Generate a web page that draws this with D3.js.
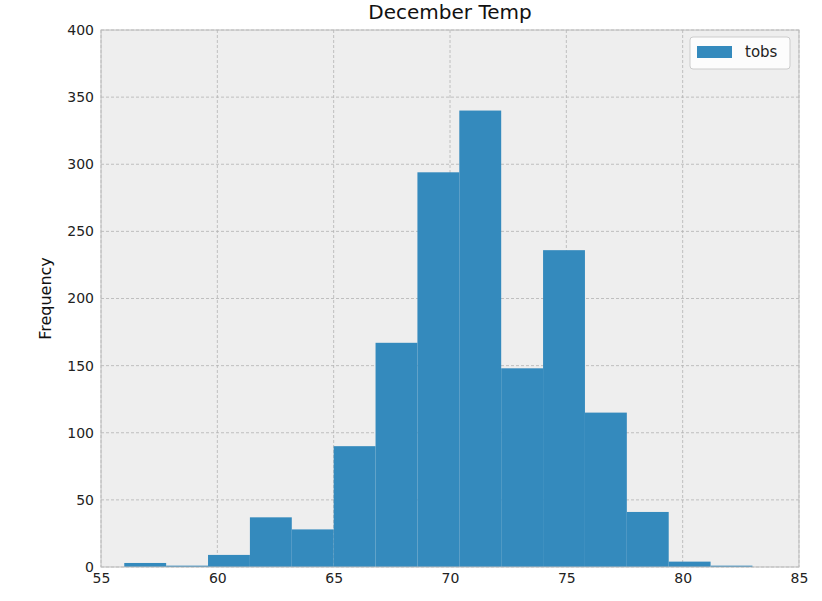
<!DOCTYPE html>
<html><head><meta charset="utf-8">
<script src="https://cdn.jsdelivr.net/npm/d3@7"></script>
<style>body{margin:0;background:#fff;font-family:"DejaVu Sans",sans-serif;}</style>
</head><body><svg id="c" width="822" height="601"></svg>
<script>
const binEdges = [56,57.8,59.6,61.4,63.2,65,66.8,68.6,70.4,72.2,74,75.8,77.6,79.4,81.2,83];
const counts = [3,1,9,37,28,90,167,294,340,148,236,115,41,4,1];
const xTicks = [55,60,65,70,75,80,85];
const yTicks = [0,50,100,150,200,250,300,350,400];

const svg = d3.select("#c");
const m = {l:101, r:799, t:30, b:567};
const x = d3.scaleLinear().domain([55,85]).range([m.l,m.r]);
const y = d3.scaleLinear().domain([0,400]).range([m.b,m.t]);

svg.append("rect").attr("x",m.l).attr("y",m.t).attr("width",m.r-m.l).attr("height",m.b-m.t).attr("fill","#eeeeee");
const g = svg.append("g");
xTicks.forEach(t=>g.append("line").attr("x1",x(t)).attr("x2",x(t)).attr("y1",m.t).attr("y2",m.b).attr("stroke","#b2b2b2").attr("stroke-dasharray","3,2").attr("stroke-width",0.8));
yTicks.forEach(t=>g.append("line").attr("y1",y(t)).attr("y2",y(t)).attr("x1",m.l).attr("x2",m.r).attr("stroke","#b2b2b2").attr("stroke-dasharray","3,2").attr("stroke-width",0.8));

svg.selectAll(".bar").data(counts).enter().append("rect")
 .attr("x",(d,i)=>x(binEdges[i])).attr("width",(d,i)=>x(binEdges[i+1])-x(binEdges[i]))
 .attr("y",d=>y(d)).attr("height",d=>y(0)-y(d)).attr("fill","#348ABD");

svg.append("rect").attr("x",m.l).attr("y",m.t).attr("width",m.r-m.l).attr("height",m.b-m.t).attr("fill","none").attr("stroke","#bcbcbc");

const xa = svg.append("g").attr("transform",`translate(0,${m.b})`).call(d3.axisBottom(x).tickValues(xTicks).tickSize(0).tickPadding(6));
const ya = svg.append("g").attr("transform",`translate(${m.l},0)`).call(d3.axisLeft(y).tickValues(yTicks).tickSize(0).tickPadding(7));
[xa,ya].forEach(a=>{a.select(".domain").remove();a.selectAll("text").attr("font-size",14).attr("fill","#222").attr("font-family","DejaVu Sans");});

svg.append("text").attr("x",(m.l+m.r)/2).attr("y",19).attr("text-anchor","middle").attr("font-size",20).attr("fill","#111").text("December Temp");
svg.append("text").attr("transform",`translate(51,${(m.t+m.b)/2}) rotate(-90)`).attr("text-anchor","middle").attr("font-size",16).attr("fill","#111").text("Frequency");

const lg = svg.append("g");
lg.append("rect").attr("x",690).attr("y",37).attr("width",100).attr("height",32).attr("rx",3).attr("fill","#fff").attr("fill-opacity",0.8).attr("stroke","#ccc");
lg.append("rect").attr("x",697).attr("y",46).attr("width",35).attr("height",12).attr("fill","#348ABD");
lg.append("text").attr("x",745).attr("y",57).attr("font-size",15).attr("fill","#222").text("tobs");
</script></body></html>
